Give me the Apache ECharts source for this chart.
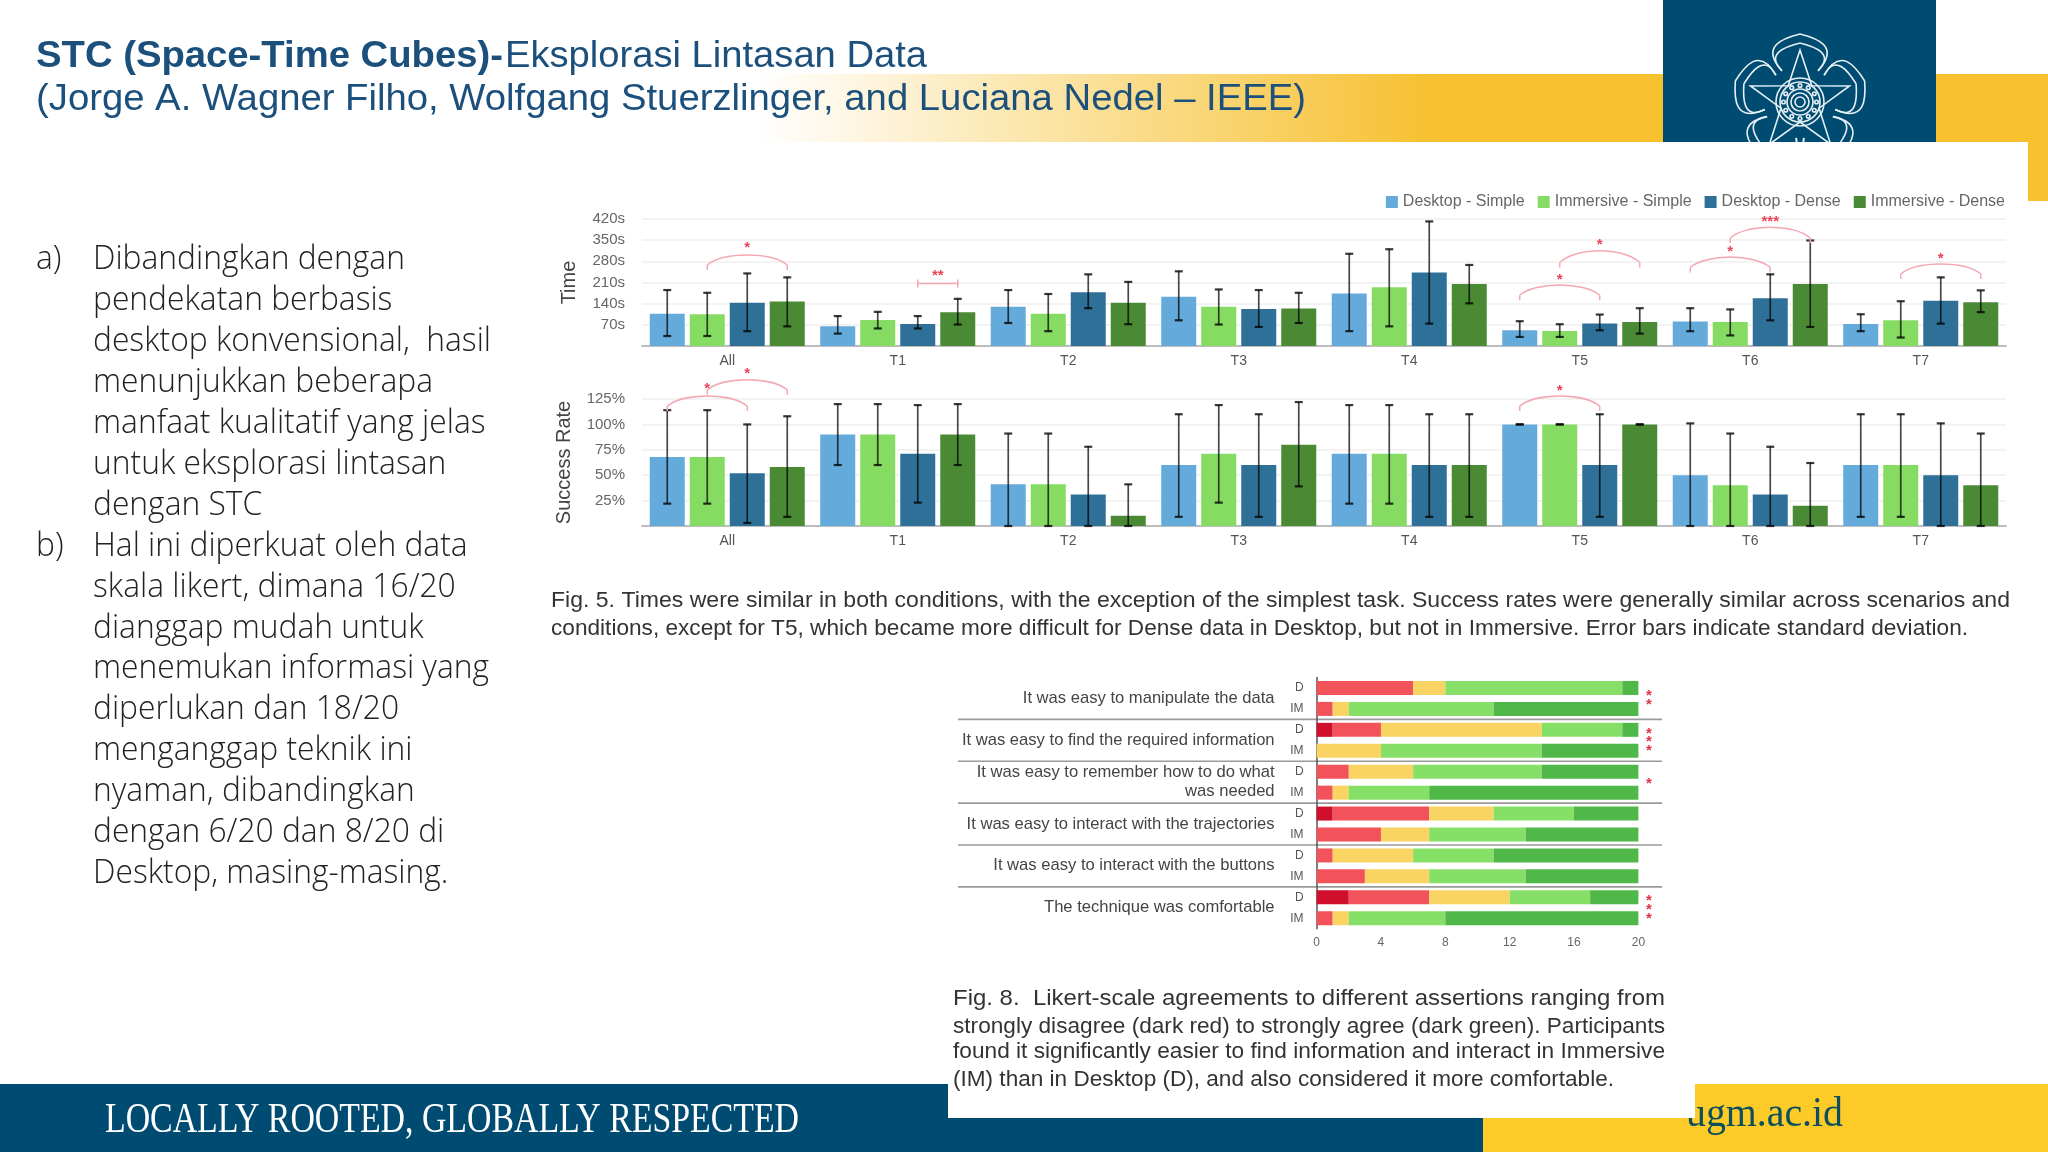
<!DOCTYPE html>
<html><head><meta charset="utf-8">
<style>html,body{margin:0;padding:0;background:#fff}#c{width:2048px;height:1152px}</style>
<script src="https://cdn.jsdelivr.net/npm/echarts@6/dist/echarts.min.js"></script>
</head><body><div id="c"></div>
<script>
const categories = ['All','T1','T2','T3','T4','T5','T6','T7'];
const seriesNames = ['Desktop - Simple','Immersive - Simple','Desktop - Dense','Immersive - Dense'];

const timeDS = [107,65,130,163,174,52,81,73];
const timeIS = [105,86,107,130,194,50,79,85];
const timeDD = [143,73,178,122,243,74,158,150];
const timeID = [147,112,143,124,205,79,205,145];
const timeDSHi = [185,99,185,247,305,82,125,105];
const timeDSLo = [33,41,76,85,49,30,49,49];
const timeISHi = [176,113,172,187,320,72,121,148];
const timeISLo = [33,58,49,71,65,30,35,28];
const timeDDHi = [240,99,237,185,412,104,237,227];
const timeDDLo = [49,58,125,63,74,52,85,74];
const timeIDHi = [227,156,212,176,268,125,349,184];
const timeIDLo = [65,71,72,76,141,41,63,112];

const succDS = [68,90,41,60,71,100,50,60];
const succIS = [68,90,41,71,71,100,40,60];
const succDD = [52,71,31,60,60,60,31,50];
const succID = [58,90,10,80,60,100,20,40];
const succDSHi = [114,120,91,110,119,100,101,110];
const succDSLo = [22,60,0,9,22,100,0,9];
const succISHi = [114,120,91,119,119,100,91,110];
const succISLo = [22,60,0,23,22,100,0,9];
const succDDHi = [100,119,78,110,110,110,78,101];
const succDDLo = [3,23,0,9,9,9,0,0];
const succIDHi = [108,120,41,122,110,100,62,91];
const succIDLo = [9,60,0,39,9,100,0,0];

// [task, first bar, last bar, end value, peak value, star value, stars]
const timeBrackets = [
  [0,1,3,268,301,331,'*'],[1,2,3,207,207,237,'**'],
  [5,1,3,276,315,342,'*'],[5,0,2,168,202,224,'*'],
  [6,0,2,260,294,318,'*'],[6,1,3,357,393,418,'***'],
  [7,1,3,238,271,296,'*']
];
const succBrackets = [
  [0,0,2,118,128,137,'*'],[0,1,3,134,144,152,'*'],[5,0,2,118,128,135,'*']
];

const likertGroups = ['It was easy to manipulate the data','It was easy to find the required information','It was easy to remember how to do what\nwas needed','It was easy to interact with the trajectories','It was easy to interact with the buttons','The technique was comfortable'];
const likertRows = ['D','IM','D','IM','D','IM','D','IM','D','IM','D','IM'];
const likertStrongDisagree = [0,0,1,0,0,0,1,0,0,0,2,0];
const likertDisagree = [6,1,3,0,2,1,6,4,1,3,5,1];
const likertNeutral = [2,1,10,4,4,1,4,3,5,4,5,1];
const likertAgree = [11,9,5,10,8,5,5,6,5,6,5,6];
const likertStrongAgree = [1,9,1,6,6,13,4,7,9,7,3,12];
const likertStars = [2,3,1,0,0,3];

const titleBold = 'STC (Space-Time Cubes)-';
const titleRest = 'Eksplorasi Lintasan Data';
const titleLine2 = '(Jorge A. Wagner Filho, Wolfgang Stuerzlinger, and Luciana Nedel \u2013 IEEE)';
const bodyMarkers = [['a)',0],['b)',7]];
const bodyLines = ['Dibandingkan dengan','pendekatan berbasis','desktop konvensional,  hasil','menunjukkan beberapa','manfaat kualitatif yang jelas','untuk eksplorasi lintasan','dengan STC','Hal ini diperkuat oleh data','skala likert, dimana 16/20','dianggap mudah untuk','menemukan informasi yang','diperlukan dan 18/20','menganggap teknik ini','nyaman, dibandingkan','dengan 6/20 dan 8/20 di','Desktop, masing-masing.'];
const fig5Lines = ['Fig. 5. Times were similar in both conditions, with the exception of the simplest task. Success rates were generally similar across scenarios and','conditions, except for T5, which became more difficult for Dense data in Desktop, but not in Immersive. Error bars indicate standard deviation.'];
const fig8Lines = ['Fig. 8.  Likert-scale agreements to different assertions ranging from','strongly disagree (dark red) to strongly agree (dark green). Participants','found it significantly easier to find information and interact in Immersive','(IM) than in Desktop (D), and also considered it more comfortable.'];

const BLUE='#004B71', YEL='#F6C02F', YEL2='#FDCB28', TITLE='#1B4F7C', SANS="'Liberation Sans'";
const colors = ['#64ABDB','#86DC62','#2F7099','#4B8A35'];
const likertColors = ['#CF0F2B','#F2525A','#F9D463','#86DF66','#50B848'];

const mctx = document.createElement('canvas').getContext('2d');
function sx(text,font,width){mctx.font=font;return width/mctx.measureText(text).width;}
function fitText(text,x,y,font,fill,width,z){
  return {type:'text',x,y,z:z===undefined?-1:z,scaleX:sx(text,font,width),silent:true,
    style:{text,font,fill,textAlign:'left',textVerticalAlign:'middle'}};
}
function rect(x,y,w,h,fill,z){return {type:'rect',z:z===undefined?-3:z,silent:true,shape:{x,y,width:w,height:h},style:{fill}};}

// emblem outline, built from angles round its centre
function emblem(cx,cy){
  const out=[],stroke={stroke:'#E4F0F5',lineWidth:1.6,fill:'none'};
  const P=(r,a)=>[cx+r*Math.cos(a*Math.PI/180),cy+r*Math.sin(a*Math.PI/180)];
  const bez=(a,b,c,d)=>({type:'bezierCurve',z:-2,silent:true,shape:{x1:a[0],y1:a[1],cpx1:b[0],cpy1:b[1],cpx2:c[0],cpy2:c[1],x2:d[0],y2:d[1]},style:stroke});
  for(let k=0;k<5;k++){
    const a=-90+72*k;
    [68,59].forEach(R=>{
      out.push(bez(P(36,a-30),P(R*1.02,a-36),P(R*0.97,a-14),P(R,a)));
      out.push(bez(P(R,a),P(R*0.97,a+14),P(R*1.02,a+36),P(36,a+30)));
    });
  }
  const star=[];
  for(let k=0;k<10;k++)star.push(P(k%2?20:52,-90+36*k));
  out.push({type:'polygon',z:-2,silent:true,shape:{points:star},style:stroke});
  [24,20,13,9,5].forEach(r=>out.push({type:'circle',z:-2,silent:true,shape:{cx,cy,r},style:stroke}));
  for(let k=0;k<12;k++){const p=P(16.5,30*k);out.push({type:'circle',z:-2,silent:true,shape:{cx:p[0],cy:p[1],r:1.8},style:stroke});}
  return out;
}

const bodyFont="300 33px 'Open Sans'";
const bodyScale=sx(bodyLines[2],bodyFont,398);
const bodyY=i=>260+i*40.9;
const GL=[{left:642,right:42,top:219,height:127},{left:642,right:42,top:399,height:127},{left:1316.6,width:321.8,top:677.5,height:251.2}];
const rowH=GL[2].height/12;

const graphics=[
  rect(757,74,906,68,{type:'linear',x:0,y:0,x2:1,y2:0,colorStops:[{offset:0,color:'rgba(246,192,47,0)'},{offset:0.75,color:YEL},{offset:1,color:YEL}]}),
  rect(1663,74,385,127,YEL),
  rect(1663,0,273,142,BLUE),
  ...emblem(1800,102),
  rect(540,142,1488,80,'#fff',-1.5),
  rect(0,1084,1483,68,BLUE),
  rect(1483,1118,565,34,YEL2),
  rect(1695,1084,353,34,YEL2),
  fitText('LOCALLY ROOTED, GLOBALLY RESPECTED',105,1121,"42px 'Liberation Serif'",'#fff',694),
  fitText('ugm.ac.id',1686,1115,"42px 'Liberation Serif'",'#0D4F5C',157),
  rect(948,1000,747,118,'#fff',-0.5),
  fitText(titleBold,36,57,`bold 37px ${SANS}`,TITLE,467),
  fitText(titleRest,505,57,`37px ${SANS}`,TITLE,422),
  fitText(titleLine2,36,100,`37px ${SANS}`,TITLE,1270),
  ...bodyLines.map((t,i)=>({type:'text',x:93,y:bodyY(i),z:-1,scaleX:bodyScale,silent:true,style:{text:t,font:bodyFont,fill:'#222',textVerticalAlign:'middle'}})),
  ...bodyMarkers.map(([t,i])=>({type:'text',x:36,y:bodyY(i),z:-1,scaleX:bodyScale,silent:true,style:{text:t,font:bodyFont,fill:'#222',textVerticalAlign:'middle'}})),
  fitText(fig5Lines[0],551,601,`22px ${SANS}`,'#333',1459,0),
  fitText(fig5Lines[1],551,629,`22px ${SANS}`,'#333',1417,0),
  ...fig8Lines.map((t,i)=>fitText(t,953,[999,1027,1052,1080][i],`22px ${SANS}`,'#333',i<3?712:661,0)),
];
// group separators of the Likert block
for(let i=1;i<6;i++){
  const y=GL[2].top+i*2*rowH;
  graphics.push({type:'line',z:0,silent:true,shape:{x1:958,y1:y,x2:1662,y2:y},style:{stroke:'#9a9a9a',lineWidth:1.6}});
}
likertStars.forEach((n,g)=>{
  const mid=GL[2].top+(g*2+1)*rowH;
  for(let k=0;k<n;k++){
    graphics.push({type:'text',x:1649,y:mid+(k-(n-1)/2)*8.7+2,z:1,silent:true,style:{text:'*',font:`bold 15px ${SANS}`,fill:'#E0334C',textAlign:'center',textVerticalAlign:'middle'}});
  }
});

function makeX(api,cat,bar){return api.coord([cat,0])[0]+(bar-1.5)*api.size([1,0])[0]*40/170.5;}
function errorSeries(xi,yi,hi,lo){
  const data=[];
  hi.forEach((h,b)=>h.forEach((v,c)=>data.push([c,b,lo[b][c],v])));
  return {type:'custom',xAxisIndex:xi,yAxisIndex:yi,silent:true,z:5,clip:false,data,encode:{x:0,y:[2,3]},
    renderItem(p,api){
      const x=makeX(api,api.value(0),api.value(1)),y1=api.coord([0,api.value(2)])[1],y2=api.coord([0,api.value(3)])[1];
      const st={stroke:'rgba(0,0,0,0.72)',lineWidth:1.7};
      const cap={stroke:'rgba(0,0,0,0.78)',lineWidth:2.2};
      return {type:'group',children:[
        {type:'line',shape:{x1:x,y1,x2:x,y2},style:st},
        {type:'line',shape:{x1:x-4,y1,x2:x+4,y2:y1},style:cap},
        {type:'line',shape:{x1:x-4,y1:y2,x2:x+4,y2},style:cap}]};
    }};
}
function bracketSeries(xi,yi,arr){
  return {type:'custom',xAxisIndex:xi,yAxisIndex:yi,silent:true,z:6,clip:false,data:arr.map(b=>[b[0],b[3]]),encode:{x:0,y:1},
    renderItem(p,api){
      const b=arr[p.dataIndex];
      const x1=makeX(api,b[0],b[1]),x2=makeX(api,b[0],b[2]);
      const ye=api.coord([0,b[3]])[1],yp=api.coord([0,b[4]])[1],ys=api.coord([0,b[5]])[1];
      const line={stroke:'#F3A9B3',lineWidth:1.5,fill:'none'};
      const kids=[];
      if(b[3]===b[4]){
        kids.push({type:'line',shape:{x1,y1:ye,x2,y2:ye},style:line},
          {type:'line',shape:{x1,y1:ye-4,x2:x1,y2:ye+4},style:line},
          {type:'line',shape:{x1:x2,y1:ye-4,x2,y2:ye+4},style:line});
      }else{
        const w=x2-x1,cy=ye+(yp-ye)/0.75;
        kids.push({type:'bezierCurve',shape:{x1,y1:ye,x2,y2:ye,cpx1:x1+w*0.2,cpy1:cy,cpx2:x2-w*0.2,cpy2:cy},style:line},
          {type:'line',shape:{x1,y1:ye,x2:x1,y2:ye+5},style:line},
          {type:'line',shape:{x1:x2,y1:ye,x2,y2:ye+5},style:line});
      }
      kids.push({type:'text',x:(x1+x2)/2,y:ys+2,style:{text:b[6],font:`bold 15px ${SANS}`,fill:'#E8455A',textAlign:'center',textVerticalAlign:'middle'}});
      return {type:'group',children:kids};
    }};
}
function barSeries(xi,yi,arrs){
  return arrs.map((d,i)=>({type:'bar',name:seriesNames[i],xAxisIndex:xi,yAxisIndex:yi,data:d,barWidth:35,barGap:'14.3%',
    itemStyle:{color:colors[i]},emphasis:{disabled:true},z:2}));
}
const likertData=[likertStrongDisagree,likertDisagree,likertNeutral,likertAgree,likertStrongAgree];
const likertNames=['Strongly disagree','Disagree','Neutral','Agree','Strongly agree'];
const catAxis=(g)=>({type:'category',gridIndex:g,data:categories,
  axisLine:{lineStyle:{color:'#bdbdbd',width:2}},axisTick:{show:false},
  axisLabel:{fontFamily:SANS,fontSize:14,color:'#555',margin:8}});
const valAxis=(g,max,iv,unit,name,gap)=>({type:'value',gridIndex:g,min:0,max,interval:iv,
  name,nameLocation:'middle',nameGap:gap,nameTextStyle:{fontFamily:SANS,fontSize:20,color:'#444'},
  axisLine:{show:false},axisTick:{show:false},
  splitLine:{lineStyle:{color:'#efefef',width:1.5}},
  axisLabel:{fontFamily:SANS,fontSize:15,color:'#666',margin:17,formatter:v=>v===0?'':v+unit}});

const option={
  animation:false,
  backgroundColor:'#fff',
  textStyle:{fontFamily:SANS},
  graphic:{elements:graphics},
  legend:{data:seriesNames,right:38,top:189,itemWidth:12,itemHeight:12,itemGap:13,icon:'rect',
    textStyle:{fontFamily:SANS,fontSize:16,color:'#666'}},
  grid:GL,
  xAxis:[catAxis(0),catAxis(1),
    {type:'value',gridIndex:2,min:0,max:20,interval:4,axisLine:{show:false},axisTick:{show:false},splitLine:{show:false},
     axisLabel:{fontFamily:SANS,fontSize:12,color:'#666',margin:8}}],
  yAxis:[valAxis(0,420,70,'s','Time',63),valAxis(1,125,25,'%','Success Rate',68),
    {type:'category',gridIndex:2,position:'left',inverse:true,data:likertRows,axisLine:{lineStyle:{color:'#555',width:1.5}},axisTick:{show:false},
     axisLabel:{fontFamily:SANS,fontSize:12,color:'#555',margin:13,interval:0}},
    {type:'category',gridIndex:2,position:'left',inverse:true,data:likertGroups,axisLine:{show:false},axisTick:{show:false},
     axisLabel:{fontFamily:SANS,fontSize:16.6,lineHeight:19,color:'#444',margin:42,interval:0,align:'right'}}],
  series:[
    ...barSeries(0,0,[timeDS,timeIS,timeDD,timeID]),
    ...barSeries(1,1,[succDS,succIS,succDD,succID]),
    errorSeries(0,0,[timeDSHi,timeISHi,timeDDHi,timeIDHi],[timeDSLo,timeISLo,timeDDLo,timeIDLo]),
    errorSeries(1,1,[succDSHi,succISHi,succDDHi,succIDHi],[succDSLo,succISLo,succDDLo,succIDLo]),
    bracketSeries(0,0,timeBrackets),
    bracketSeries(1,1,succBrackets),
    ...likertData.map((d,i)=>({type:'bar',name:likertNames[i],xAxisIndex:2,yAxisIndex:2,stack:'likert',data:d,barWidth:14,
      itemStyle:{color:likertColors[i]},emphasis:{disabled:true}}))
  ]
};
const chart=echarts.init(document.getElementById('c'),null,{width:2048,height:1152});
chart.setOption(option);
</script></body></html>
